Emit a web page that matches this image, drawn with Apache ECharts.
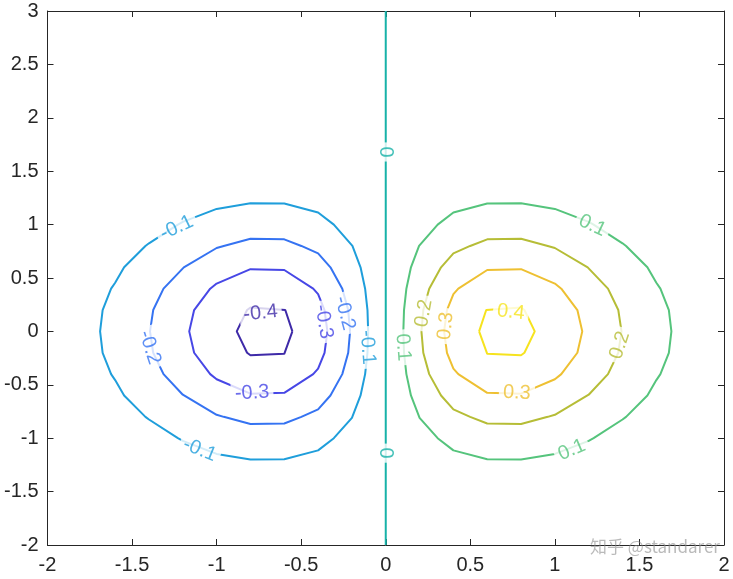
<!DOCTYPE html>
<html><head><meta charset="utf-8">
<script src="https://cdn.jsdelivr.net/npm/echarts@6/dist/echarts.min.js"></script>
<style>html,body{margin:0;padding:0;background:#fff}#c{width:733px;height:579px}</style>
</head><body><div id="c"></div>
<script>
// contour levels and colours (parula)
const levels = [-0.4,-0.3,-0.2,-0.1,0,0.1,0.2,0.3,0.4];
const levelColors = ['#3e2aa8','#4747e6','#3573f2','#1f9edb','#17b2a8','#55c47c','#b6bd36','#eec032','#f6e31e'];
const xTicks = [-2,-1.5,-1,-0.5,0,0.5,1,1.5,2];
const yTicks = [-2,-1.5,-1,-0.5,0,0.5,1,1.5,2,2.5,3];

// contour vertices, [x, y]
const cPos04 = [[0.552,0],[0.594,0.2],[0.6,0.21],[0.8,0.223],[0.82,0.2],[0.881,0],[0.82,-0.2],[0.8,-0.223],[0.6,-0.21],[0.594,-0.2],[0.552,0]];
const cPos03 = [[0.345,0],[0.362,0.2],[0.4,0.349],[0.429,0.4],[0.6,0.575],[0.8,0.583],[1.0,0.448],[1.038,0.4],[1.133,0.2],[1.162,0],[1.133,-0.2],[1.038,-0.4],[1.0,-0.448],[0.8,-0.583],[0.6,-0.575],[0.429,-0.4],[0.4,-0.349],[0.362,-0.2],[0.345,0]];
const cPos02 = [[0.211,0],[0.222,0.2],[0.257,0.4],[0.327,0.6],[0.4,0.73],[0.499,0.8],[0.6,0.862],[0.8,0.867],[0.958,0.8],[1.0,0.781],[1.194,0.6],[1.2,0.593],[1.314,0.4],[1.375,0.2],[1.394,0],[1.375,-0.2],[1.314,-0.4],[1.2,-0.593],[1.194,-0.6],[1.0,-0.781],[0.958,-0.8],[0.8,-0.867],[0.6,-0.862],[0.499,-0.8],[0.4,-0.73],[0.327,-0.6],[0.257,-0.4],[0.222,-0.2],[0.211,0]];
const cPos01 = [[0.104,0],[0.108,0.2],[0.122,0.4],[0.149,0.6],[0.197,0.8],[0.2,0.809],[0.307,1.0],[0.4,1.114],[0.6,1.197],[0.8,1.2],[1.0,1.147],[1.2,1.025],[1.229,1.0],[1.4,0.825],[1.421,0.8],[1.547,0.6],[1.6,0.456],[1.624,0.4],[1.674,0.2],[1.689,0],[1.674,-0.2],[1.624,-0.4],[1.6,-0.456],[1.547,-0.6],[1.421,-0.8],[1.4,-0.825],[1.229,-1.0],[1.2,-1.025],[1.0,-1.147],[0.8,-1.2],[0.6,-1.197],[0.4,-1.114],[0.307,-1.0],[0.2,-0.809],[0.197,-0.8],[0.149,-0.6],[0.122,-0.4],[0.108,-0.2],[0.104,0]];
const cZero = [[0,-2],[0,3]];
const cNeg01 = [[-0.104,0],[-0.108,0.2],[-0.122,0.4],[-0.149,0.6],[-0.197,0.8],[-0.2,0.809],[-0.307,1.0],[-0.4,1.114],[-0.6,1.197],[-0.8,1.2],[-1.0,1.147],[-1.2,1.025],[-1.229,1.0],[-1.4,0.825],[-1.421,0.8],[-1.547,0.6],[-1.6,0.456],[-1.624,0.4],[-1.674,0.2],[-1.689,0],[-1.674,-0.2],[-1.624,-0.4],[-1.6,-0.456],[-1.547,-0.6],[-1.421,-0.8],[-1.4,-0.825],[-1.229,-1.0],[-1.2,-1.025],[-1.0,-1.147],[-0.8,-1.2],[-0.6,-1.197],[-0.4,-1.114],[-0.307,-1.0],[-0.2,-0.809],[-0.197,-0.8],[-0.149,-0.6],[-0.122,-0.4],[-0.108,-0.2],[-0.104,0]];
const cNeg02 = [[-0.211,0],[-0.222,0.2],[-0.257,0.4],[-0.327,0.6],[-0.4,0.73],[-0.499,0.8],[-0.6,0.862],[-0.8,0.867],[-0.958,0.8],[-1.0,0.781],[-1.194,0.6],[-1.2,0.593],[-1.314,0.4],[-1.375,0.2],[-1.394,0],[-1.375,-0.2],[-1.314,-0.4],[-1.2,-0.593],[-1.194,-0.6],[-1.0,-0.781],[-0.958,-0.8],[-0.8,-0.867],[-0.6,-0.862],[-0.499,-0.8],[-0.4,-0.73],[-0.327,-0.6],[-0.257,-0.4],[-0.222,-0.2],[-0.211,0]];
const cNeg03 = [[-0.345,0],[-0.362,0.2],[-0.4,0.349],[-0.429,0.4],[-0.6,0.575],[-0.8,0.583],[-1.0,0.448],[-1.038,0.4],[-1.133,0.2],[-1.162,0],[-1.133,-0.2],[-1.038,-0.4],[-1.0,-0.448],[-0.8,-0.583],[-0.6,-0.575],[-0.429,-0.4],[-0.4,-0.349],[-0.362,-0.2],[-0.345,0]];
const cNeg04 = [[-0.552,0],[-0.594,0.2],[-0.6,0.21],[-0.8,0.223],[-0.82,0.2],[-0.881,0],[-0.82,-0.2],[-0.8,-0.223],[-0.6,-0.21],[-0.594,-0.2],[-0.552,0]];

// contour labels: position, text, angle, level index
const labX = [-0.74, -0.367, -0.79, -0.242, -1.396, -1.236, -1.10, -0.108, 0, 0, 0.102, 1.222, 1.10, 0.225, 1.384, 0.355, 0.775, 0.74];
const labY = [0.17, 0.09, -0.576, 0.17, -0.15, 0.97, -1.11, -0.15, 1.68, -1.14, -0.15, 0.99, -1.11, 0.17, -0.13, 0.05, -0.576, 0.18];
const labText = ['-0.4','-0.3','-0.3','-0.2','-0.2','-0.1','-0.1','-0.1','0','0','0.1','0.1','0.1','0.2','0.2','0.3','0.3','0.4'];
const labAngle = [6, -80, 3, -75, -72, 25, -22, -86, -90, -90, -86, -25, 23, 80, 72, 84, -3, -6];
const labLevel = [0,1,1,2,2,3,3,3,4,4,5,5,5,6,6,7,7,8];

const contours = [
  {data: cNeg04, lv: 0}, {data: cNeg03, lv: 1}, {data: cNeg02, lv: 2}, {data: cNeg01, lv: 3},
  {data: cZero, lv: 4},
  {data: cPos01, lv: 5}, {data: cPos02, lv: 6}, {data: cPos03, lv: 7}, {data: cPos04, lv: 8}
];

const FONT = 'Liberation Sans, Arial, Helvetica, sans-serif';
const chart = echarts.init(document.getElementById('c'), null, {renderer: 'canvas'});

const series = contours.map(c => ({
  type: 'line', data: c.data, showSymbol: false, symbol: 'none', smooth: false,
  lineStyle: {color: levelColors[c.lv], width: 2}, z: 2, animation: false, silent: true
}));
series.push({
  type: 'scatter', symbol: 'circle', symbolSize: 1, z: 5, animation: false, silent: true,
  itemStyle: {color: 'rgba(255,255,255,0)'},
  labelLayout: {hideOverlap: false},
  data: labX.map((x, i) => ({
    value: [x, labY[i]],
    itemStyle: {color: 'rgba(255,255,255,0)'},
    label: {
      show: true, position: 'inside', formatter: labText[i], rotate: labAngle[i],
      color: levelColors[labLevel[i]], fontSize: 20, fontFamily: FONT,
      backgroundColor: '#ffffff', padding: [0, 4, 0, 4]
    }
  }))
});

const axisCommon = {
  type: 'value', scale: false,
  axisLine: {show: true, onZero: false, lineStyle: {color: '#262626', width: 1}},
  axisTick: {show: true, inside: true, length: 6, lineStyle: {color: '#262626'}},
  splitLine: {show: false},
};

chart.setOption({
  animation: false,
  backgroundColor: '#ffffff',
  grid: {left: 47.5, right: 9, top: 11, bottom: 34, containLabel: false},
  xAxis: [
    Object.assign({}, axisCommon, {position: 'bottom', min: -2, max: 2, interval: 0.5,
      axisLabel: {show: true, color: '#262626', fontSize: 20, fontFamily: FONT, margin: 10,
        formatter: v => String(xTicks.find(t => Math.abs(t - v) < 1e-9) ?? v)}}),
    Object.assign({}, axisCommon, {position: 'top', min: -2, max: 2, interval: 0.5, axisLabel: {show: false}})
  ],
  yAxis: [
    Object.assign({}, axisCommon, {position: 'left', min: -2, max: 3, interval: 0.5,
      axisLabel: {show: true, color: '#262626', fontSize: 20, fontFamily: FONT, margin: 9,
        formatter: v => String(yTicks.find(t => Math.abs(t - v) < 1e-9) ?? v)}}),
    Object.assign({}, axisCommon, {position: 'right', min: -2, max: 3, interval: 0.5, axisLabel: {show: false}})
  ],
  graphic: [{
    type: 'text', left: 590, top: 538, z: 100,
    style: {text: '知乎 @standarer', fill: 'rgba(140,140,140,0.6)', fontSize: 17,
      fontFamily: 'Noto Sans CJK SC, Liberation Sans, sans-serif'}
  }],
  series: series
});
</script>
</body></html>
